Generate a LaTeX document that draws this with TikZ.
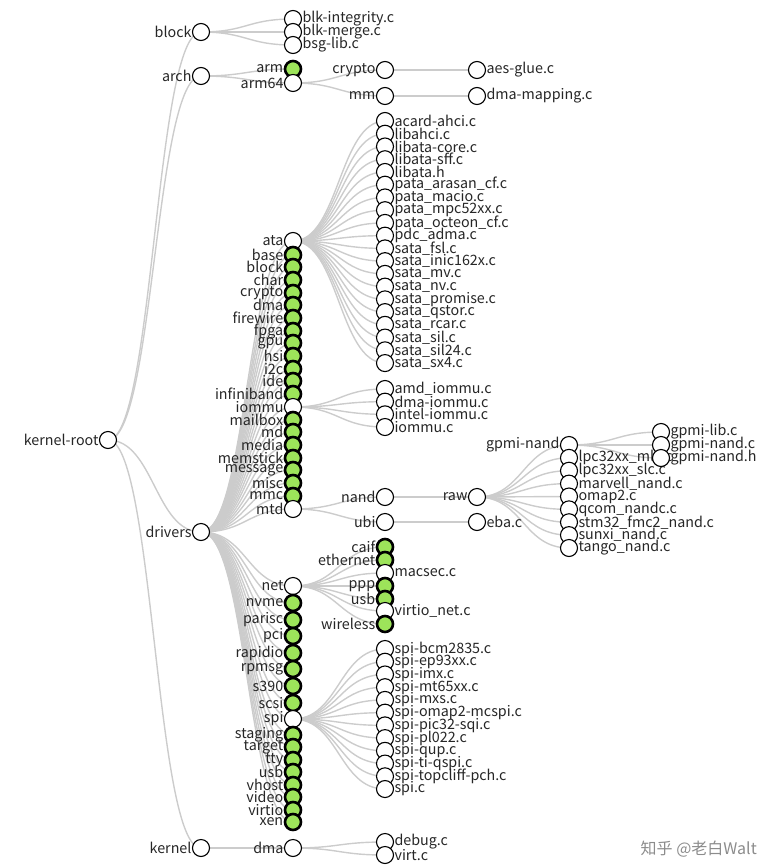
\documentclass[tikz,border=0pt]{standalone}
\usepackage{fontspec}
\setmainfont{Noto Sans CJK SC}
\usetikzlibrary{backgrounds}
\definecolor{ng}{HTML}{9DE45A}
\tikzset{
 n/.style={circle, draw=black, fill=white, line width=1.1pt, minimum size=17pt, inner sep=0},
 g/.style={n, fill=ng, line width=2.6pt, minimum size=16pt},
 lbl/.style={font=\fontsize{14.3}{14}\selectfont, inner sep=0.3pt, text=black!85},
 L/.style={label={[lbl]left:#1}},
 R/.style={label={[lbl]right:#1}},
 e/.style={draw=black!20, line width=1.4pt}
}
\newcommand\lk[2]{\draw[e] (#1.center) .. controls +(46,0) and +(-46,0) .. (#2.center);}
\begin{document}
\begin{tikzpicture}[x=1pt,y=-1pt]
\useasboundingbox (0,0) rectangle (767,868);
% level 0/1
\node[n,L=kernel-root] (root) at (108,440) {};
\node[n,L=block] (block) at (201,32) {};
\node[n,L=arch] (arch) at (201,76) {};
\node[n,L=drivers] (drivers) at (201,532) {};
\node[n,L=kernel] (kernel) at (201,848) {};
% block
\node[n,R=blk-integrity.c] (b1) at (293,19) {};
\node[n,R=blk-merge.c] (b2) at (293,32) {};
\node[n,R=bsg-lib.c] (b3) at (293,45) {};
% arch
\node[g,L=arm] (arm) at (293,69) {};
\node[n,L=arm64] (arm64) at (293,83) {};
\node[n,L=crypto] (acr) at (385,70) {};
\node[n,L=mm] (amm) at (385,96) {};
\node[n,R=aes-glue.c] (aes) at (477,70) {};
\node[n,R=dma-mapping.c] (dmam) at (477,96) {};
% kernel
\node[n,L=dma] (kdma) at (293,848) {};
\node[n,R=debug.c] (kd1) at (385,842) {};
\node[n,R=virt.c] (kd2) at (385,855) {};
% drivers column
\foreach \nm/\y/\s in {ata/241/n,base/255/g,block/267/g,char/280/g,crypto/293/g,dma/305/g,firewire/318/g,fpga/331/g,gpu/343/g,hsi/356/g,i2c/369/g,ide/381/g,infiniband/394/g,iommu/407/n,mailbox/420/g,md/432/g,media/445/g,memstick/458/g,message/470/g,misc/483/g,mmc/496/g,mtd/509/n,net/586/n,nvme/603/g,parisc/620/g,pci/636/g,rapidio/653/g,rpmsg/669/g,s390/686/g,scsi/703/g,spi/719/n,staging/735/g,target/747/g,tty/760/g,usb/772/g,vhost/785/g,video/797/g,virtio/810/g,xen/822/g}
 \node[\s,L=\nm] (d-\nm) at (293,\y) {};
% ata
\foreach \nm [count=\i from 0] in {acard-ahci.c,libahci.c,libata-core.c,libata-sff.c,libata.h,pata\_arasan\_cf.c,pata\_macio.c,pata\_mpc52xx.c,pata\_octeon\_cf.c,pdc\_adma.c,sata\_fsl.c,sata\_inic162x.c,sata\_mv.c,sata\_nv.c,sata\_promise.c,sata\_qstor.c,sata\_rcar.c,sata\_sil.c,sata\_sil24.c,sata\_sx4.c}
 \node[n,R=\nm] (ata\i) at (385,{121+12.74*\i}) {};
% iommu
\foreach \nm [count=\i from 0] in {amd\_iommu.c,dma-iommu.c,intel-iommu.c,iommu.c}
 \node[n,R=\nm] (iom\i) at (385,{389+12.67*\i}) {};
% mtd
\node[n,L=nand] (nand) at (385,497) {};
\node[n,L=ubi] (ubi) at (385,522) {};
\node[n,L=raw] (raw) at (477,497) {};
\node[n,R=eba.c] (eba) at (477,522) {};
\node[n,L=gpmi-nand] (raw0) at (569,445) {};
\foreach \nm [count=\i from 1] in {lpc32xx\_mlc.c,lpc32xx\_slc.c,marvell\_nand.c,omap2.c,qcom\_nandc.c,stm32\_fmc2\_nand.c,sunxi\_nand.c,tango\_nand.c}
 \node[n,R=\nm] (raw\i) at (569,{445+12.875*\i}) {};
\foreach \nm [count=\i from 0] in {gpmi-lib.c,gpmi-nand.c,gpmi-nand.h}
 \node[n,R=\nm] (gp\i) at (661,{432+13*\i}) {};
% net
\node[g,L=caif] (net0) at (385,547) {};
\node[g,L=ethernet] (net1) at (385,560) {};
\node[n,R=macsec.c] (net2) at (385,573) {};
\node[g,L=ppp] (net3) at (385,586) {};
\node[g,L=usb] (net4) at (385,599) {};
\node[n,R=virtio\_net.c] (net5) at (385,611) {};
\node[g,L=wireless] (net6) at (385,624) {};
% spi
\foreach \nm [count=\i from 0] in {spi-bcm2835.c,spi-ep93xx.c,spi-imx.c,spi-mt65xx.c,spi-mxs.c,spi-omap2-mcspi.c,spi-pic32-sqi.c,spi-pl022.c,spi-qup.c,spi-ti-qspi.c,spi-topcliff-pch.c,spi.c}
 \node[n,R=\nm] (spi\i) at (385,{649+12.73*\i}) {};
\node[text=black!45, font=\fontsize{16}{16}\selectfont, anchor=east, inner sep=0] (wm) at (757,849) {知乎 @老白Walt};
\begin{scope}[on background layer]
\foreach \c in {block,arch,drivers,kernel} {\lk{root}{\c}}
\foreach \c in {b1,b2,b3} {\lk{block}{\c}}
\lk{arch}{arm}\lk{arch}{arm64}\lk{arm64}{acr}\lk{arm64}{amm}\lk{acr}{aes}\lk{amm}{dmam}
\lk{kernel}{kdma}\lk{kdma}{kd1}\lk{kdma}{kd2}
\foreach \c in {ata,base,block,char,crypto,dma,firewire,fpga,gpu,hsi,i2c,ide,infiniband,iommu,mailbox,md,media,memstick,message,misc,mmc,mtd,net,nvme,parisc,pci,rapidio,rpmsg,s390,scsi,spi,staging,target,tty,usb,vhost,video,virtio,xen} {\lk{drivers}{d-\c}}
\foreach \i in {0,...,19} {\lk{d-ata}{ata\i}}
\foreach \i in {0,...,3} {\lk{d-iommu}{iom\i}}
\lk{d-mtd}{nand}\lk{d-mtd}{ubi}\lk{nand}{raw}\lk{ubi}{eba}
\foreach \i in {0,...,8} {\lk{raw}{raw\i}}
\foreach \i in {0,...,2} {\lk{raw0}{gp\i}}
\foreach \i in {0,...,6} {\lk{d-net}{net\i}}
\foreach \i in {0,...,11} {\lk{d-spi}{spi\i}}
\end{scope}
\end{tikzpicture}
\end{document}
